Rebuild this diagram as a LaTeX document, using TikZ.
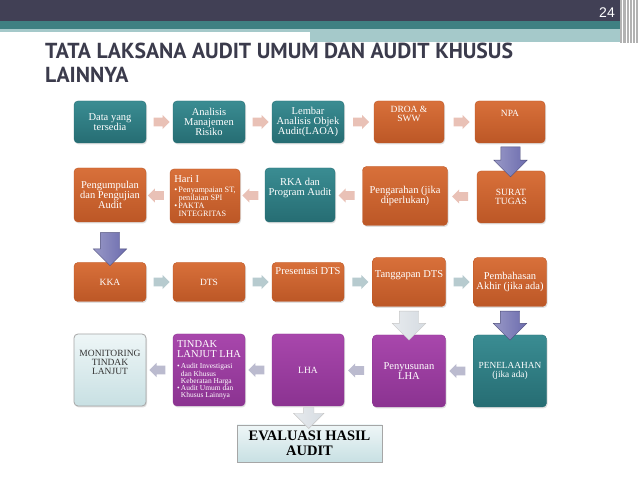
\documentclass[tikz,border=0pt]{standalone}
\usepackage{fontspec}
\setmainfont{Liberation Serif}
\newfontfamily\titlefont{PT Sans}
\newfontfamily\numfont{Liberation Sans}
\usepackage{tikz}
\usetikzlibrary{shapes.arrows, positioning, shadows, calc}
\definecolor{HeadDark}{HTML}{414055}
\definecolor{HeadTeal}{HTML}{3F8082}
\definecolor{HeadLight}{HTML}{A5C9CA}
\definecolor{TitleGrey}{HTML}{3B3B4C}
\definecolor{BoxTeal}{HTML}{3A8C92}
\definecolor{BoxTealDark}{HTML}{266D73}
\definecolor{BoxOrange}{HTML}{D8703A}
\definecolor{BoxOrangeDark}{HTML}{BC5726}
\definecolor{BoxPurple}{HTML}{A847AC}
\definecolor{BoxPurpleDark}{HTML}{8B3391}
\definecolor{PaleTeal}{HTML}{EEF6F7}
\definecolor{PaleTealDark}{HTML}{C8E0E3}
\definecolor{ArrPink}{HTML}{E9C1B6}
\definecolor{ArrBlue}{HTML}{B7CBCF}
\definecolor{ArrLilac}{HTML}{BBBBCF}
\definecolor{ArrNavy}{HTML}{6C6CAE}
\definecolor{ArrGrey}{HTML}{D6DCE2}
\newcommand\bulfont{\fontsize{8.2}{7.8}\selectfont}
\newcommand\headfont{\fontsize{10.5}{10}\selectfont}
\newcommand\capsfont{\fontsize{9.5}{9}\selectfont}
\newcommand\bl{\textbullet\,}
\newcommand\ind{\hphantom{\textbullet\,}}

\tikzset{
  box/.style={rounded corners=4pt, text=white, align=center, inner sep=1pt,
    font=\headfont,
    drop shadow={opacity=0.25, shadow xshift=1pt, shadow yshift=-1.5pt}},
  tealbox/.style={box, top color=BoxTeal, bottom color=BoxTealDark, draw=BoxTealDark},
  orangebox/.style={box, top color=BoxOrange, bottom color=BoxOrangeDark, draw=BoxOrangeDark},
  purplebox/.style={box, top color=BoxPurple, bottom color=BoxPurpleDark, draw=BoxPurpleDark},
  palebox/.style={box, text=black!80, top color=PaleTeal, bottom color=PaleTealDark, draw=gray!70, thick},
  smallarr/.style={single arrow, minimum height=16pt, inner xsep=0pt, inner ysep=4.25pt,
    single arrow head extend=2.75pt},
  pinkarr/.style={smallarr, fill=ArrPink},
  pinkback/.style={pinkarr, rotate=180},
  bluearr/.style={smallarr, fill=ArrBlue},
  lilacback/.style={smallarr, fill=ArrLilac, rotate=180},
  bigdown/.style={single arrow, rotate=-90, inner xsep=0pt, inner ysep=9.5pt,
    single arrow head extend=7pt,
    left color=ArrNavy!70!white, right color=ArrNavy, draw=ArrNavy!70!black},
  greydown/.style={bigdown, left color=ArrGrey!60!white, right color=ArrGrey, draw=gray!45}
}

\begin{document}
\begin{tikzpicture}[x=1pt, y=-1pt]
  \useasboundingbox (0,0) rectangle (638,478);
  \fill[white] (0,0) rectangle (638,478);

  % slide header
  \fill[HeadDark] (0,0) rectangle (638,21);
  \fill[HeadTeal] (0,21) rectangle (638,29);
  \fill[HeadLight] (0,29) rectangle (638,32);
  \fill[HeadLight] (310,29) rectangle (620,42);
  \fill[gray!60] (620,0) rectangle (638,43);
  \foreach \x in {622,626,629,632,635}
    \draw[white, line width=0.8pt] (\x,0) -- (\x,43);
  \node[text=white, font=\numfont\fontsize{14}{14}\selectfont] (pagenum) at (607,13) {24};

  \node[anchor=north west, align=left, inner sep=0pt, text=TitleGrey,
    font=\titlefont\bfseries\fontsize{21.7}{24.5}\selectfont] (title) at (45,42.5)
    {TATA LAKSANA AUDIT UMUM DAN AUDIT KHUSUS\\LAINNYA};

  % row 1
  \node[tealbox, minimum width=72pt, minimum height=42pt] (data) at (110,122) {Data yang\\tersedia};
  \node[tealbox, minimum width=72pt, minimum height=42pt] (analisis) at (209,122) {Analisis\\Manajemen\\Risiko};
  \node[tealbox, minimum width=72pt, minimum height=42pt] (lembar) at (308,122) {Lembar\\Analisis Objek\\Audit(LAOA)};
  \node[orangebox, minimum width=70pt, minimum height=42pt, font=\capsfont] (droa) at (409,122) {DROA \&\\SWW\\[8pt]};
  \node[orangebox, minimum width=70pt, minimum height=42pt, font=\capsfont] (npa) at (510,122) {NPA\\[8pt]};

  % row 2
  \node[orangebox, minimum width=72pt, minimum height=54pt] (kumpul) at (110,195) {Pengumpulan\\dan Pengujian\\Audit};
  \node[orangebox, minimum width=70pt, minimum height=54pt, align=left, font=\bulfont] (hari) at (205,196)
    {{\headfont Hari I}\\[2pt]\bl Penyampaian ST,\\\ind penilaian SPI\\\bl PAKTA\\\ind INTEGRITAS};
  \node[tealbox, minimum width=70pt, minimum height=54pt] (rka) at (300,195) {RKA dan\\Program Audit\\[6pt]};
  \node[orangebox, minimum width=85pt, minimum height=59pt] (arahan) at (405,196) {Pengarahan (jika\\diperlukan)};
  \node[orangebox, minimum width=68pt, minimum height=52pt, font=\capsfont] (surat) at (511,197) {SURAT\\TUGAS};

  % row 3
  \node[orangebox, minimum width=72pt, minimum height=39pt, font=\capsfont] (kka) at (110,282) {KKA};
  \node[orangebox, minimum width=72pt, minimum height=39pt, font=\capsfont] (dts) at (209,282) {DTS};
  \node[orangebox, minimum width=72pt, minimum height=39pt] (presentasi) at (308,282) {Presentasi DTS\\[12pt]};
  \node[orangebox, minimum width=73pt, minimum height=49pt] (tanggapan) at (409,282) {Tanggapan DTS\\[6pt]};
  \node[orangebox, minimum width=73pt, minimum height=49pt] (bahas) at (510,282) {Pembahasan\\Akhir (jika ada)};

  % row 4
  \node[palebox, minimum width=72pt, minimum height=72pt, font=\capsfont] (monitor) at (110,370) {MONITORING\\TINDAK\\LANJUT\\[6pt]};
  \node[purplebox, minimum width=72pt, minimum height=72pt, align=left, font=\fontsize{7.5}{6.8}\selectfont] (tindak) at (209,370)
    {{\headfont TINDAK}\\[2pt]{\headfont LANJUT LHA}\\[4pt]\bl Audit Investigasi\\\ind dan Khusus\\\ind Keberatan Harga\\\bl Audit Umum dan\\\ind Khusus Lainnya};
  \node[purplebox, minimum width=72pt, minimum height=72pt, font=\capsfont] (lha) at (308,370) {LHA};
  \node[purplebox, minimum width=73pt, minimum height=72pt] (susun) at (409,371) {Penyusunan\\LHA};
  \node[tealbox, minimum width=73pt, minimum height=72pt, font=\fontsize{9.3}{9.5}\selectfont] (telaah) at (510,371) {PENELAAHAN\\(jika ada)};

  \node[palebox, rounded corners=0pt, minimum width=145pt, minimum height=37pt, text=black,
    font=\bfseries\fontsize{14.5}{15}\selectfont] (evaluasi) at (309.5,443.5) {EVALUASI HASIL\\AUDIT};

  % small block arrows
  \foreach \a/\b in {data/analisis, analisis/lembar, lembar/droa, droa/npa}
    \node[pinkarr] (\a-\b) at ($(\a.east)!0.5!(\b.west)$) {};
  \foreach \a/\b in {kumpul/hari, hari/rka, rka/arahan, arahan/surat}
    \node[pinkback] (\b-\a) at ($(\a.east)!0.5!(\b.west)$) {};
  \foreach \a/\b in {kka/dts, dts/presentasi, presentasi/tanggapan, tanggapan/bahas}
    \node[bluearr] (\a-\b) at ($(\a.east)!0.5!(\b.west)$) {};
  \foreach \a/\b in {monitor/tindak, tindak/lha, lha/susun, susun/telaah}
    \node[lilacback] (\b-\a) at ($(\a.east)!0.5!(\b.west)$) {};

  % big down arrows
  \node[bigdown, minimum height=30pt] (npa-surat) at ($(npa.south)!0.5!(surat.north)$) {};
  \node[bigdown, minimum height=33pt] (kumpul-kka) at ($(kumpul.south)!0.55!(kka.north)$) {};
  \node[bigdown, minimum height=29pt] (bahas-telaah) at ($(bahas.south)!0.5!(telaah.north)$) {};
  \node[greydown, minimum height=29pt] (tanggapan-susun) at ($(tanggapan.south)!0.5!(susun.north)$) {};
  \node[greydown, minimum height=21pt, inner ysep=5pt, single arrow head extend=10pt] (lha-evaluasi) at ($(lha.south)!0.5!(evaluasi.north)$) {};
\end{tikzpicture}
\end{document}
